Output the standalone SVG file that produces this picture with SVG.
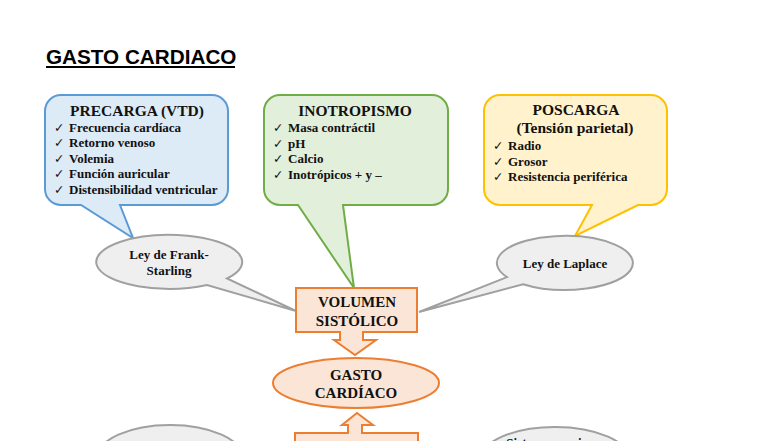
<svg xmlns="http://www.w3.org/2000/svg" width="784" height="441" viewBox="0 0 784 441">
<style>
.t{font-family:"Liberation Serif","Times New Roman",serif;font-weight:bold;fill:#111}
.h{font-size:15.5px;text-anchor:middle}
.i{font-size:13px}
.ck{font-family:"DejaVu Sans",sans-serif;font-size:12.5px;fill:#111}
.blue{fill:#DDEBF7;stroke:#5B9BD5;stroke-width:2}
.green{fill:#E2EFDA;stroke:#70AD47;stroke-width:2}
.yellow{fill:#FFF2CC;stroke:#FFC000;stroke-width:2}
.gray{fill:#EFEFEF;stroke:#A0A0A0;stroke-width:2}
.orange{fill:#FBE5D6;stroke:#ED7D31;stroke-width:2}
.o{font-size:15px;text-anchor:middle}
</style>
<rect width="784" height="441" fill="#ffffff"/>
<g id="title">
<text x="46" y="64" font-family="Liberation Sans,Arial,sans-serif" font-weight="bold" font-size="20.7" fill="#000">GASTO CARDIACO</text>
<rect x="46" y="66" width="189" height="2" fill="#000"/>
</g>
<g id="precarga">
<path class="blue" d="M61 95H212A16 16 0 0 1 228 111V189A16 16 0 0 1 212 205H120L133 238L81 205H61A16 16 0 0 1 45 189V111A16 16 0 0 1 61 95Z"/>
<text class="t h" x="137" y="116">PRECARGA (VTD)</text>
<text class="ck" x="54" y="131.5">✓</text><text class="t i" x="69" y="131.5">Frecuencia cardíaca</text>
<text class="ck" x="54" y="147">✓</text><text class="t i" x="69" y="147">Retorno venoso</text>
<text class="ck" x="54" y="162.5">✓</text><text class="t i" x="69" y="162.5">Volemia</text>
<text class="ck" x="54" y="178">✓</text><text class="t i" x="69" y="178">Función auricular</text>
<text class="ck" x="54" y="194">✓</text><text class="t i" x="69" y="194">Distensibilidad ventricular</text>
</g>
<g id="inotropismo">
<path class="green" d="M280 95H432A16 16 0 0 1 448 111V189A16 16 0 0 1 432 205H343L354 288L298 205H280A16 16 0 0 1 264 189V111A16 16 0 0 1 280 95Z"/>
<text class="t h" x="355" y="116">INOTROPISMO</text>
<text class="ck" x="273" y="132">✓</text><text class="t i" x="288" y="132">Masa contráctil</text>
<text class="ck" x="273" y="147.5">✓</text><text class="t i" x="288" y="147.5">pH</text>
<text class="ck" x="273" y="163">✓</text><text class="t i" x="288" y="163">Calcio</text>
<text class="ck" x="273" y="178.5">✓</text><text class="t i" x="288" y="178.5">Inotrópicos + y –</text>
</g>
<g id="poscarga">
<path class="yellow" d="M500 95H651A16 16 0 0 1 667 111V189A16 16 0 0 1 651 205H638L575 236L592 205H500A16 16 0 0 1 484 189V111A16 16 0 0 1 500 95Z"/>
<text class="t h" x="576" y="115">POSCARGA</text>
<text class="t h" x="575" y="133">(Tensión parietal)</text>
<text class="ck" x="493" y="150">✓</text><text class="t i" x="508" y="150">Radio</text>
<text class="ck" x="493" y="165.5">✓</text><text class="t i" x="508" y="165.5">Grosor</text>
<text class="ck" x="493" y="181">✓</text><text class="t i" x="508" y="181">Resistencia periférica</text>
</g>
<g id="frank-starling">
<path class="gray" d="M207 285A73 27 0 1 1 227 278.4L296 311Z"/>
<text class="t i" x="169" y="259" text-anchor="middle">Ley de Frank-</text>
<text class="t i" x="169" y="275" text-anchor="middle">Starling</text>
</g>
<g id="laplace">
<path class="gray" d="M523 284.2A68 27 0 1 0 507 277.1L419 312Z"/>
<text class="t i" x="565" y="268" text-anchor="middle">Ley de Laplace</text>
</g>
<g id="connectors">
<path class="orange" d="M340 331V340H334L355 355L376 340H363V331"/>
<path class="orange" d="M348 435V425H342L357 413L373 425H362V435"/>
</g>
<g id="volumen">
<rect class="orange" x="296" y="288" width="121" height="44"/>
<path fill="#FBE5D6" d="M341 331H362V334H341Z"/>
<text class="t o" x="357" y="307">VOLUMEN</text>
<text class="t o" x="357" y="326">SISTÓLICO</text>
</g>
<g id="gasto">
<ellipse class="orange" cx="356" cy="383" rx="83" ry="25"/>
<text class="t o" x="356" y="379.5">GASTO</text>
<text class="t o" x="356" y="397.5">CARDÍACO</text>
</g>
<g id="bottom-box">
<rect class="orange" x="295" y="433" width="123" height="30"/>
<path fill="#FBE5D6" d="M349 431H361V435H349Z"/>
</g>
<g id="bottom-left">
<ellipse class="gray" cx="170" cy="458" rx="73" ry="33"/>
</g>
<g id="bottom-right">
<ellipse class="gray" cx="555" cy="460" rx="75" ry="33"/>
<text class="t i" x="553" y="447" text-anchor="middle">Sistema nervioso</text>
</g>
</svg>
